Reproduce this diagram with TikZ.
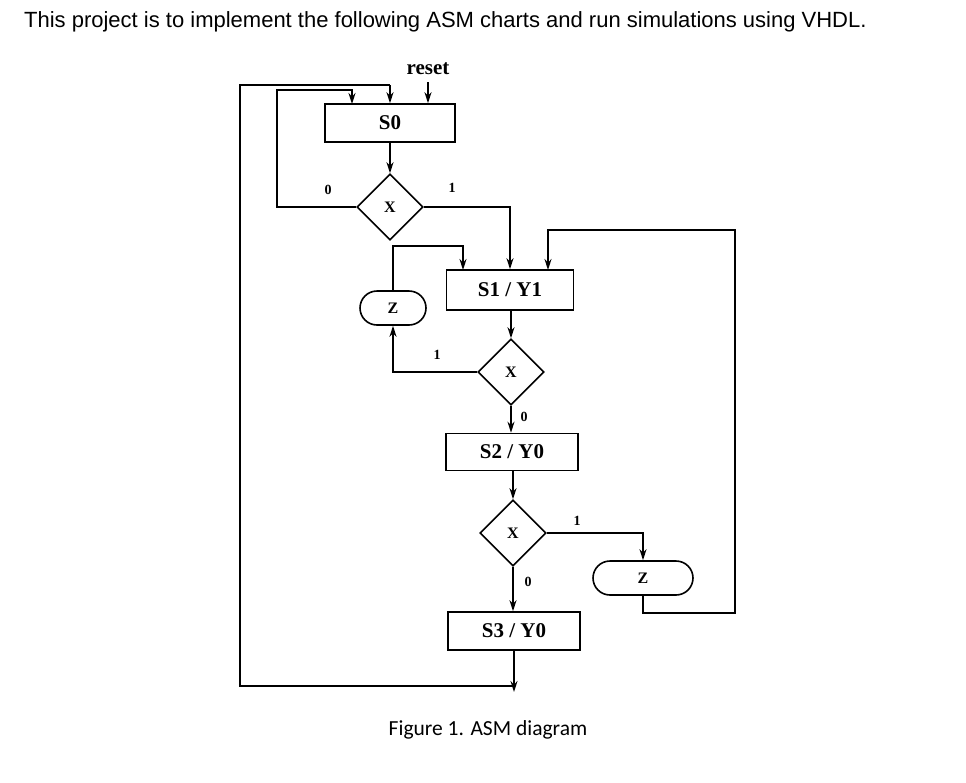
\documentclass[tikz,border=0pt]{standalone}
\usepackage{fontspec}
\setmainfont{Liberation Serif}
\newfontfamily\titlefont{Liberation Sans}
\newfontfamily\capfont{Carlito}
\usetikzlibrary{shapes.geometric,shapes.misc,arrows.meta}
\begin{document}
\begin{tikzpicture}[x=1pt,y=-1pt,
  line width=1.6pt,
  >={Stealth[length=11pt,width=7pt]},
  st/.style={draw,rectangle,inner sep=0,font=\fontsize{21}{23}\selectfont\bfseries},
  dec/.style={draw,diamond,minimum width=66,minimum height=66,inner sep=0,font=\fontsize{16}{18}\selectfont\bfseries},
  cnd/.style={draw,rounded rectangle,minimum height=34,inner sep=0,font=\fontsize{16}{18}\selectfont\bfseries},
  lbl/.style={font=\fontsize{14}{16}\selectfont\bfseries}]
\useasboundingbox (0,0) rectangle (966,782);
\node[anchor=west,font=\titlefont\fontsize{22}{26}\selectfont] (title) at (20,22) {This project is to implement the following ASM charts and run simulations using VHDL.};
\node[font=\fontsize{21}{23}\selectfont\bfseries] (reset) at (428,69) {reset};
\node[st,minimum width=130,minimum height=38] (s0) at (390,123) {S0};
\node[dec] (d1) at (390,207) {X};
\node[st,minimum width=127,minimum height=40] (s1) at (510,290) {S1 / Y1};
\node[cnd,minimum width=66] (z1) at (393,308) {Z};
\node[dec] (d2) at (511,372) {X};
\node[st,minimum width=132,minimum height=37] (s2) at (512,452) {S2 / Y0};
\node[dec] (d3) at (513,533) {X};
\node[cnd,minimum width=100] (z2) at (643,578) {Z};
\node[st,minimum width=132,minimum height=38] (s3) at (514,631) {S3 / Y0};
\node[anchor=center,font=\capfont\fontsize{21.5}{25}\selectfont] (cap) at (488,730) {Figure 1. ASM diagram};
\coordinate (rs) at (428,82);
\coordinate (bot) at (514,686);
\draw[->] (rs) -- (rs|-s0.north);
\draw[->] (s0) -- (d1);
\draw[->] (d1.west) -- (277,207) -- (277,90) -- (352,90) -- (352,104);
\draw[->] (d1.east) -- (510,207) -- (s1.north);
\draw[->] (z1.north) -- (393,246) -- (463,246) -- (463,270);
\draw[->] (d2.north|-s1.south) -- (d2.north);
\draw[->] (d2.west) -- (393,372) -- (z1.south);
\draw[->] (d2.south) -- (d2.south|-s2.north);
\draw[->] (d3.north|-s2.south) -- (d3.north);
\draw[->] (d3.east) -- (643,533) -- (z2.north);
\draw[->] (d3.south) -- (d3.south|-s3.north);
\draw[->] (z2.south) -- (643,613) -- (735,613) -- (735,230) -- (548,230) -- (548,270);
\draw[->] (s3.south) -- ([yshift=-6]bot);
\draw (s3.south) -- (bot) -- (240,686) -- (240,85) -- (390,85);
\draw[->] (390,85) -- (s0.north);
\node[lbl] (l0a) at (328,190) {0};
\node[lbl] (l1a) at (452,188) {1};
\node[lbl] (l1b) at (437,355) {1};
\node[lbl] (l0b) at (524,417) {0};
\node[lbl] (l1c) at (577,521) {1};
\node[lbl] (l0c) at (528,582) {0};
\end{tikzpicture}
\end{document}
